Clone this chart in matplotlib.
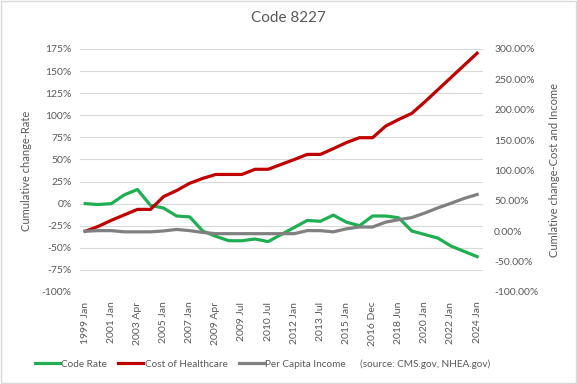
import matplotlib.pyplot as plt
from matplotlib.patches import Rectangle
from matplotlib.ticker import FuncFormatter

# categories (31 points, every other one labelled on the axis)
periods = ["1999 Jan", "2000 Jan", "2001 Jan", "2002 Jan", "2003 Apr", "2004 Jan",
           "2005 Jan", "2006 Jan", "2007 Jan", "2008 Jan", "2009 Apr", "2009 Jan",
           "2009 Jul", "2010 Jan", "2010 Jul", "2011 Jan", "2012 Jan", "2012 Jul",
           "2013 Jul", "2014 Jan", "2015 Jan", "2016 Jan", "2016 Dec", "2017 Jun",
           "2018 Jun", "2019 Jan", "2020 Jan", "2021 Jan", "2022 Jan", "2023 Jan",
           "2024 Jan"]

code_rate = [0, -1, 0, 10, 16, -2, -5, -14, -15, -31, -37, -42, -42, -40, -43, -35,
             -27, -19, -20, -13, -21, -25, -14, -14, -16, -31, -35, -39, -48, -54, -60]

cost_healthcare = [0, 8, 18, 27, 36, 36, 57, 67, 79, 87, 93.5, 93.5, 93.5, 102, 102, 110,
                   118, 126.5, 126.5, 136, 146, 154, 154, 173, 184, 194, 213, 233, 253, 273, 293]

income = [0, 1, 1, -1, -1, -1, 0.5, 3, 1, -2, -4, -4, -4, -4, -4, -4,
          -4, 1, 1, -1, 4, 7, 7, 15, 19, 22.5, 30, 38.5, 46, 54, 60.5]

plt.rcParams['font.family'] = ['Lato', 'DejaVu Sans']
txt = '#595959'

fig = plt.figure(figsize=(5.77, 3.84), dpi=100)
fig.patches.append(Rectangle((0.001, 0.002), 0.997, 0.995, transform=fig.transFigure,
                             fill=False, edgecolor='#d9d9d9', linewidth=1))

ax = fig.add_axes([0.1386, 0.2396, 0.6984, 0.6328])
ax2 = ax.twinx()

x = list(range(len(periods)))
l1, = ax.plot(x, code_rate, color='#1fae52', linewidth=2.3, label='Code Rate')
l2, = ax2.plot(x, cost_healthcare, color='#c00000', linewidth=2.3, label='Cost of Healthcare')
l3, = ax2.plot(x, income, color='#808080', linewidth=2.3, label='Per Capita Income')

ax.set_ylim(-100, 175)
ax.set_yticks(range(-100, 176, 25))
ax2.set_ylim(-100, 300)
ax2.set_yticks(range(-100, 301, 50))
ax.set_xlim(-0.4, 30.45)
ax.yaxis.set_major_formatter(FuncFormatter(lambda v, p: "%d%%" % v))
ax2.yaxis.set_major_formatter(FuncFormatter(lambda v, p: "%.2f%%" % v))

ax.set_xticks(x[::2])
ax.set_xticklabels(periods[::2], rotation=90)

ax.grid(axis='y', color='#d9d9d9', linewidth=0.8)
ax.set_axisbelow(True)
for a in (ax, ax2):
    for s in a.spines.values():
        s.set_visible(False)
    a.tick_params(length=0, colors=txt, labelsize=7.5)
ax.tick_params(axis='x', pad=7)
ax.tick_params(axis='y', pad=6)
ax2.tick_params(axis='y', pad=8)

ax.set_ylabel('Cumulative change-Rate', color=txt, fontsize=8, labelpad=7)
ax2.set_ylabel('Cumlative change-Cost and Income', color=txt, fontsize=8, labelpad=8)
ax2.yaxis.label.set_rotation(90)

fig.text(0.5, 0.953, 'Code 8227', ha='center', va='center', fontsize=11, color=txt)

fig.legend(handles=[l1, l2, l3], loc='center left', bbox_to_anchor=(0.045, 0.052), ncol=3,
           frameon=False, fontsize=7.2, handlelength=2.5, handletextpad=0.15,
           columnspacing=1.1, labelcolor=txt)
fig.text(0.624, 0.052, '(source: CMS.gov, NHEA.gov)', ha='left', va='center',
         fontsize=7.2, color=txt)

plt.savefig('out.png', dpi=100)
